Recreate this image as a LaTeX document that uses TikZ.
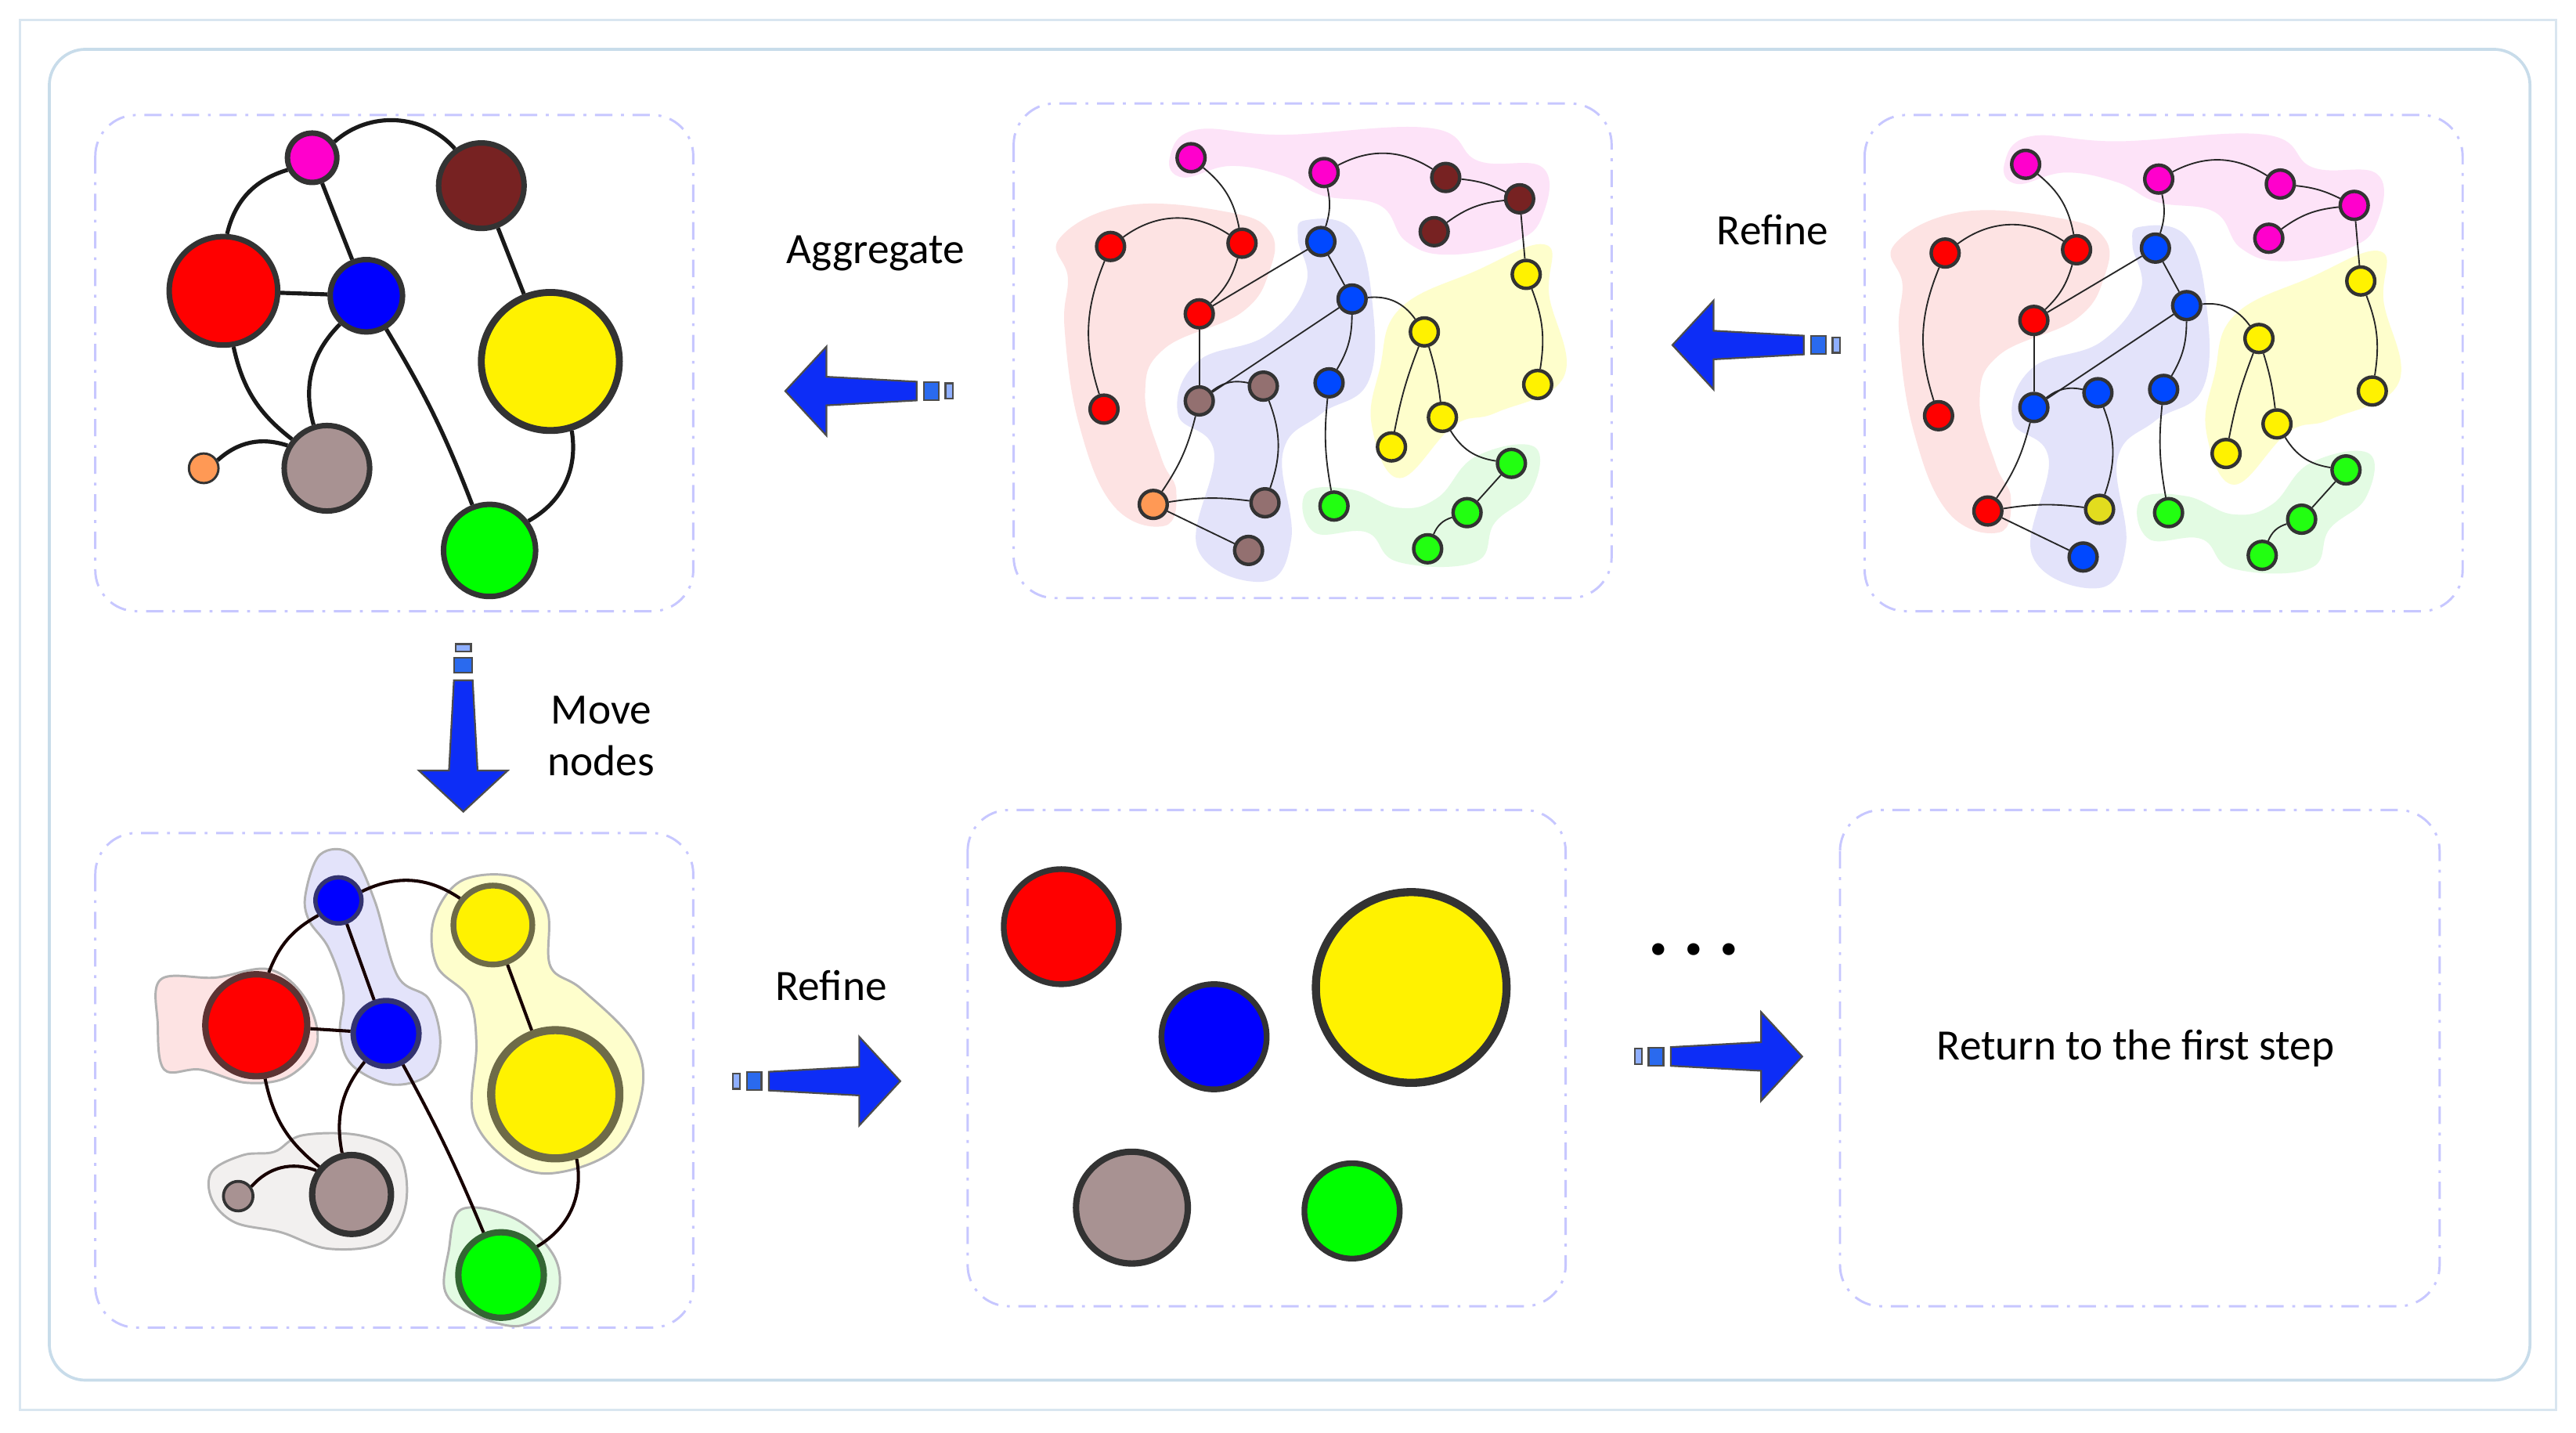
\documentclass[tikz,border=0pt]{standalone}
\usepackage{fontspec}
\setmainfont{Carlito}
\begin{document}
\begin{tikzpicture}[x=0.01cm,y=-0.01cm,
  gn/.style={circle,draw=black!80,line width=0.95pt,inner sep=0pt},
  sn/.style={circle,draw=black!80,line width=0.6pt,inner sep=0pt,minimum size=0.17cm},
  ed/.style={line width=0.7pt,draw=black!90},
  te/.style={line width=0.25pt,draw=black!85},
  de/.style={line width=0.55pt,draw=black!85!red!60!black},
  panel/.style={draw=blue!22,line width=0.4pt,dash pattern=on 3pt off 1.5pt on 0.5pt off 1.5pt,rounded corners=0.25cm},
  lab/.style={font=\fontsize{7.5}{9}\selectfont,align=center},
  ph/.style={line width=0.4pt,draw=black!30}]
\definecolor{arr}{HTML}{0D2DF6}
\definecolor{blkA}{HTML}{2A6AEE}
\definecolor{blkB}{HTML}{8FAFFF}
\definecolor{mag}{HTML}{FF00CC}
\definecolor{brn}{HTML}{772222}
\definecolor{gry}{HTML}{A89292}
\definecolor{gry2}{HTML}{937070}
\definecolor{org}{HTML}{FF9955}
\definecolor{bl2}{HTML}{0048FF}
\definecolor{gr2}{HTML}{22FF11}
\definecolor{olv}{HTML}{E2DC1E}
\definecolor{hpink}{HTML}{FDE3F8}
\definecolor{hred}{HTML}{FDE3E3}
\definecolor{hblue}{HTML}{E3E3FA}
\definecolor{hyel}{HTML}{FEFECC}
\definecolor{hgrn}{HTML}{E3FBE3}
\definecolor{hgry}{HTML}{F2F0EF}
\definecolor{frm}{HTML}{C8DCEA}
\useasboundingbox (0,0) rectangle (1568,872);
\fill[white] (0,0) rectangle (1568,872);
\draw[draw=frm!70,line width=0.4pt] (12,12) rectangle (1556,858);
\draw[draw=frm,line width=0.5pt,rounded corners=0.22cm] (30,30) rectangle (1540,840);
% panels
\draw[panel] (58,70) rectangle (422,372);
\draw[panel] (617,63) rectangle (981,364);
\draw[panel] (1135,70) rectangle (1499,372);
\draw[panel] (58,507) rectangle (422,808);
\draw[panel] (589,493) rectangle (953,795);
\draw[panel] (1120,493) rectangle (1485,795);
% arrows
\newcommand\bigarrow[2]{%
\begin{scope}[shift={#1},rotate=#2]
\fill[arr,draw=black!70,line width=0.3pt] (0,0) -- (-25,27) -- (-25,8.7) -- (-80,5.7) -- (-80,-5.7) -- (-25,-8.7) -- (-25,-27) -- cycle;
\filldraw[fill=blkA,draw=black!70,line width=0.3pt] (-84.5,-5.5) rectangle (-93.5,5.5);
\filldraw[fill=blkB,draw=black!70,line width=0.3pt] (-97.5,-4.7) rectangle (-102,4.7);
\end{scope}}
\bigarrow{(478,238)}{180}
\bigarrow{(1018,210)}{180}
\bigarrow{(282,494)}{-90}
\bigarrow{(548,658)}{0}
\bigarrow{(1097,643)}{0}
% labels
\node[lab] (tagg) at (533,154) {Aggregate};
\node[lab] (tref1) at (1079,140) {Refine};
\node[lab] (tmove) at (366,448) {Move\\nodes};
\node[lab] (tref2) at (506,600) {Refine};
\node[lab,font=\fontsize{14}{14}\selectfont\bfseries] (tdots) at (1031,578) {.\,.\,.};
\node[lab] (tret) at (1300,638) {Return to the first step};
% ---------- Panel 1
\node[gn,fill=mag,minimum size=0.30cm] (a1) at (190,96) {};
\node[gn,fill=brn,minimum size=0.52cm] (a2) at (293,113) {};
\node[gn,fill=red,minimum size=0.66cm] (a3) at (136,177) {};
\node[gn,fill=blue,minimum size=0.44cm] (a4) at (223,180) {};
\node[gn,fill=yellow,line width=1.2pt,minimum size=0.84cm] (a5) at (335,220) {};
\node[gn,fill=org,line width=0.4pt,minimum size=0.18cm] (a6) at (124,285) {};
\node[gn,fill=gry,minimum size=0.52cm] (a7) at (199,285) {};
\node[gn,fill=green,minimum size=0.56cm] (a8) at (298,335) {};
\draw[ed] (a1) to[bend left=45] (a2);
\draw[ed] (a1) to[bend right=30] (a3);
\draw[ed] (a1) -- (a4);
\draw[ed] (a3) -- (a4);
\draw[ed] (a3) to[bend right=20] (a7);
\draw[ed] (a4) to[bend right=30] (a7);
\draw[ed] (a4) to[bend left=5] (a8);
\draw[ed] (a2) -- (a5);
\draw[ed] (a5) to[bend left=35] (a8);
\draw[ed] (a6) to[bend left=30] (a7);
% ---------- Panels 2 and 3
\newcommand\gtwo[7]{%
\begin{scope}[shift={#2}]
\fill[hpink] plot[smooth cycle,tension=0.7] coordinates {(712,96) (728,79) (781,82) (871,78) (900,98) (939,102) (939,131) (922,147) (882,155) (856,147) (840,125) (805,119) (781,107) (749,101) (720,108)};
\fill[hred] plot[smooth cycle,tension=0.7] coordinates {(645,145) (686,125) (747,129) (773,141) (773,164) (756,190) (709,212) (697,240) (707,279) (716,299) (709,320) (678,308) (657,259) (648,200) (650,169)};
\fill[hblue] plot[smooth cycle,tension=0.7] coordinates {(795,134) (823,140) (835,181) (833,232) (804,252) (781,275) (786,328) (769,354) (729,334) (739,275) (717,252) (729,220) (771,204) (795,173) (790,145)};
\fill[hyel] plot[smooth cycle,tension=0.7] coordinates {(852,188) (898,165) (941,149) (943,180) (952,229) (911,251) (885,259) (852,291) (835,259) (840,224)};
\fill[hgrn] plot[smooth cycle,tension=0.7] coordinates {(795,300) (823,298) (851,309) (875,303) (898,278) (934,272) (932,299) (910,318) (898,342) (851,342) (832,324) (800,324)};
\node[sn,fill=mag] (#1m1) at (725,96) {};
\node[sn,fill=mag] (#1m2) at (806,105) {};
\node[sn,fill=#3] (#1b1) at (880,108) {};
\node[sn,fill=#3] (#1b2) at (925,121) {};
\node[sn,fill=#3] (#1b3) at (873,141) {};
\node[sn,fill=red] (#1r1) at (676,150) {};
\node[sn,fill=red] (#1r2) at (756,148) {};
\node[sn,fill=bl2] (#1u1) at (804,147) {};
\node[sn,fill=bl2] (#1u2) at (823,182) {};
\node[sn,fill=red] (#1r3) at (730,191) {};
\node[sn,fill=yellow] (#1y1) at (929,167) {};
\node[sn,fill=yellow] (#1y2) at (867,202) {};
\node[sn,fill=red] (#1r4) at (672,249) {};
\node[sn,fill=#4] (#1g1) at (730,244) {};
\node[sn,fill=#4] (#1g2) at (769,235) {};
\node[sn,fill=bl2] (#1u3) at (809,233) {};
\node[sn,fill=yellow] (#1y3) at (936,234) {};
\node[sn,fill=yellow] (#1y4) at (878,254) {};
\node[sn,fill=yellow] (#1y5) at (847,272) {};
\node[sn,fill=gr2] (#1e1) at (920,282) {};
\node[sn,fill=#5] (#1o) at (702,307) {};
\node[sn,fill=#6] (#1g3) at (770,306) {};
\node[sn,fill=gr2] (#1e2) at (812,308) {};
\node[sn,fill=gr2] (#1e3) at (893,312) {};
\node[sn,fill=#7] (#1g4) at (760,335) {};
\node[sn,fill=gr2] (#1e4) at (869,334) {};
\draw[te] (#1m1) to[bend left=20] (#1r2);
\draw[te] (#1m2) to[bend left=30] (#1b1);
\draw[te] (#1m2) to[bend left=15] (#1u1);
\draw[te] (#1b1) to[bend left=10] (#1b2);
\draw[te] (#1b2) to[bend right=15] (#1b3);
\draw[te] (#1b2) -- (#1y1);
\draw[te] (#1r1) to[bend left=35] (#1r2);
\draw[te] (#1r1) to[bend right=20] (#1r4);
\draw[te] (#1r2) to[bend left=15] (#1r3);
\draw[te] (#1u1) -- (#1r3);
\draw[te] (#1u1) -- (#1u2);
\draw[te] (#1u2) -- (#1g1);
\draw[te] (#1u2) to[bend left=30] (#1y2);
\draw[te] (#1u2) to[bend left=15] (#1u3);
\draw[te] (#1r3) -- (#1g1);
\draw[te] (#1g1) to[bend left=25] (#1g2);
\draw[te] (#1g1) to[bend left=10] (#1o);
\draw[te] (#1g2) to[bend left=20] (#1g3);
\draw[te] (#1u3) to[bend right=8] (#1e2);
\draw[te] (#1y1) to[bend left=15] (#1y3);
\draw[te] (#1y2) to[bend right=5] (#1y5);
\draw[te] (#1y2) to[bend left=5] (#1y4);
\draw[te] (#1y4) to[bend right=25] (#1e1);
\draw[te] (#1e1) -- (#1e3);
\draw[te] (#1e3) to[bend right=25] (#1e4);
\draw[te] (#1o) to[bend left=8] (#1g3);
\draw[te] (#1o) -- (#1g4);
\end{scope}}
\gtwo{p}{(0,0)}{brn}{gry2}{org}{gry2}{gry2}
\gtwo{q}{(508,4)}{mag}{bl2}{red}{olv}{bl2}
% ---------- Panel 4
\filldraw[fill=hblue,ph] plot[smooth cycle,tension=0.6] coordinates {(186,544) (195,520) (214,520) (228,548) (242,594) (261,608) (268,634) (261,654) (238,660) (214,648) (207,628) (209,604) (200,577) (188,560)};
\filldraw[fill=hred,ph] plot[smooth cycle,tension=0.6] coordinates {(98,596) (131,595) (164,590) (186,608) (193,635) (176,655) (150,659) (122,651) (100,651) (96,623)};
\filldraw[fill=hyel,ph] plot[smooth cycle,tension=0.6] coordinates {(264,560) (281,536) (314,534) (333,554) (335,588) (354,602) (385,633) (391,663) (375,699) (337,714) (309,706) (288,679) (290,635) (285,607) (266,588)};
\filldraw[fill=hgry,ph] plot[smooth cycle,tension=0.6] coordinates {(129,713) (148,703) (167,701) (184,691) (219,691) (243,703) (247,733) (233,756) (200,760) (171,750) (143,744) (129,730)};
\filldraw[fill=hgrn,ph] plot[smooth cycle,tension=0.6] coordinates {(281,736) (314,742) (338,766) (338,792) (316,807) (286,799) (271,786) (273,762)};
\node[gn,fill=blue,draw=blue!30!black!80,line width=0.75pt,minimum size=0.28cm] (b1) at (206,548) {};
\node[gn,fill=red,draw=red!20!black!80,line width=1.1pt,minimum size=0.62cm] (b2) at (156,624) {};
\node[gn,fill=blue,draw=blue!30!black!80,minimum size=0.40cm] (b3) at (235,629) {};
\node[gn,fill=yellow,draw=yellow!35!black,line width=1pt,minimum size=0.48cm] (b4) at (300,563) {};
\node[gn,fill=yellow,draw=yellow!35!black,line width=1.4pt,minimum size=0.78cm] (b5) at (338,666) {};
\node[gn,fill=gry,line width=0.5pt,minimum size=0.18cm] (b6) at (145,728) {};
\node[gn,fill=gry,line width=1.1pt,minimum size=0.48cm] (b7) at (214,727) {};
\node[gn,fill=green,draw=green!25!black!80,line width=1.1pt,minimum size=0.52cm] (b8) at (305,776) {};
\draw[de] (b1) to[bend right=20] (b2);
\draw[de] (b1) -- (b3);
\draw[de] (b1) to[bend left=30] (b4);
\draw[de] (b2) -- (b3);
\draw[de] (b2) to[bend right=20] (b7);
\draw[de] (b3) to[bend right=25] (b7);
\draw[de] (b3) to[bend left=3] (b8);
\draw[de] (b4) -- (b5);
\draw[de] (b5) to[bend left=35] (b8);
\draw[de] (b6) to[bend left=35] (b7);
% ---------- Panel 5
\node[gn,fill=red,line width=1pt,minimum size=0.70cm] (c1) at (646,564) {};
\node[gn,fill=blue,line width=1pt,minimum size=0.64cm] (c2) at (739,631) {};
\node[gn,fill=yellow,line width=1.4pt,minimum size=1.16cm] (c3) at (859,601) {};
\node[gn,fill=gry,line width=1.1pt,minimum size=0.68cm] (c4) at (689,735) {};
\node[gn,fill=green,line width=1pt,minimum size=0.58cm] (c5) at (823,737) {};
\end{tikzpicture}
\end{document}
